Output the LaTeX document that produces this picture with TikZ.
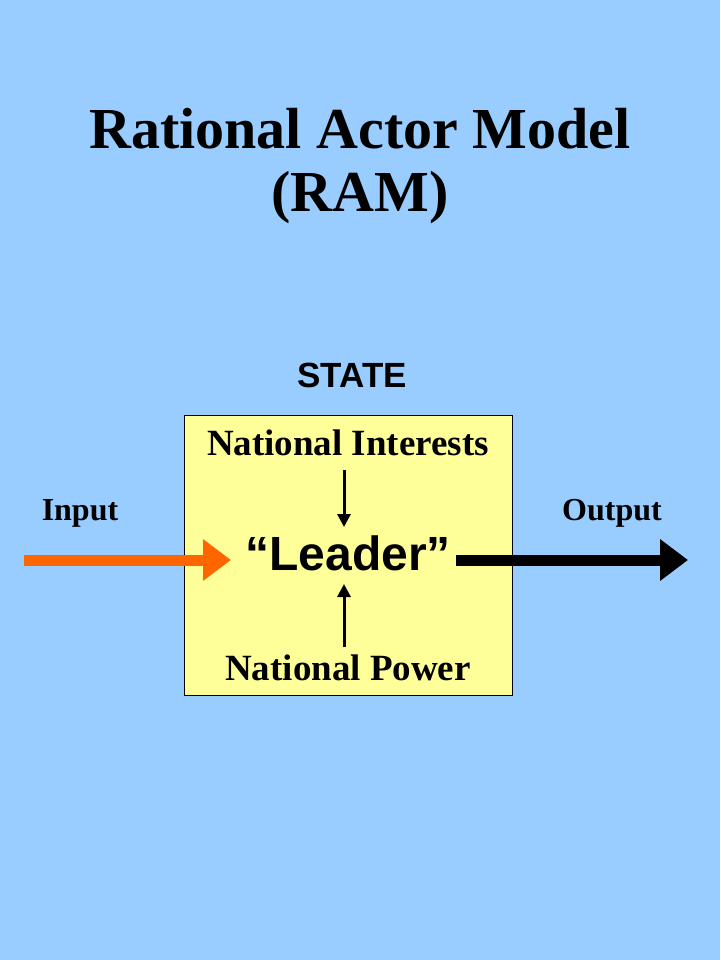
\documentclass[tikz,border=0pt]{standalone}
\usepackage{fontspec}
\setmainfont{Liberation Serif}
\setsansfont{Liberation Sans}
\usetikzlibrary{arrows.meta}
\definecolor{bg}{RGB}{153,204,255}
\definecolor{boxc}{RGB}{255,255,153}
\definecolor{orng}{RGB}{255,102,0}
\begin{document}
\begin{tikzpicture}[x=1pt,y=-1pt,
  lbl/.style={font=\fontsize{37}{40}\selectfont\bfseries, inner sep=0pt},
  side/.style={font=\fontsize{32}{36}\selectfont\bfseries, inner sep=0pt},
  thin/.style={line width=3pt,-{Triangle[length=13pt,width=13pt]}},
  fat/.style={line width=11pt,-{Triangle[length=28pt,width=40pt]}}]
\fill[bg] (0,0) rectangle (720,960);
\node[font=\fontsize{58}{63}\selectfont\bfseries, align=center] (title) at (360,166) {Rational Actor Model\\(RAM)};
\node[font=\sffamily\fontsize{35}{40}\selectfont\bfseries] (state) at (352,375) {STATE};
\node[draw=black, fill=boxc, minimum width=328pt, minimum height=280pt, inner sep=0pt] (box) at (348,555) {};
\node[lbl] (ni) at (348,443) {National Interests};
\node[lbl] (np) at (348,668) {National Power};
\node[font=\sffamily\fontsize{48}{52}\selectfont\bfseries, inner sep=0pt] (leader) at (348,553) {``Leader''};
\node[side] (in) at (80,513) {Input};
\node[side] (out) at (612,513) {Output};
\coordinate (a1) at (344,470); \coordinate (a2) at (344,527);
\coordinate (b1) at (344,647); \coordinate (b2) at (344,584);
\draw[thin] (a1) -- (a2);
\draw[thin] (b1) -- (b2);
\coordinate (o1) at (24,560); \coordinate (o2) at (231,560);
\draw[fat, orng] (o1) -- (o2);
\coordinate (k1) at (456,560); \coordinate (k2) at (688,560);
\draw[fat, black] (k1) -- (k2);
\end{tikzpicture}
\end{document}
